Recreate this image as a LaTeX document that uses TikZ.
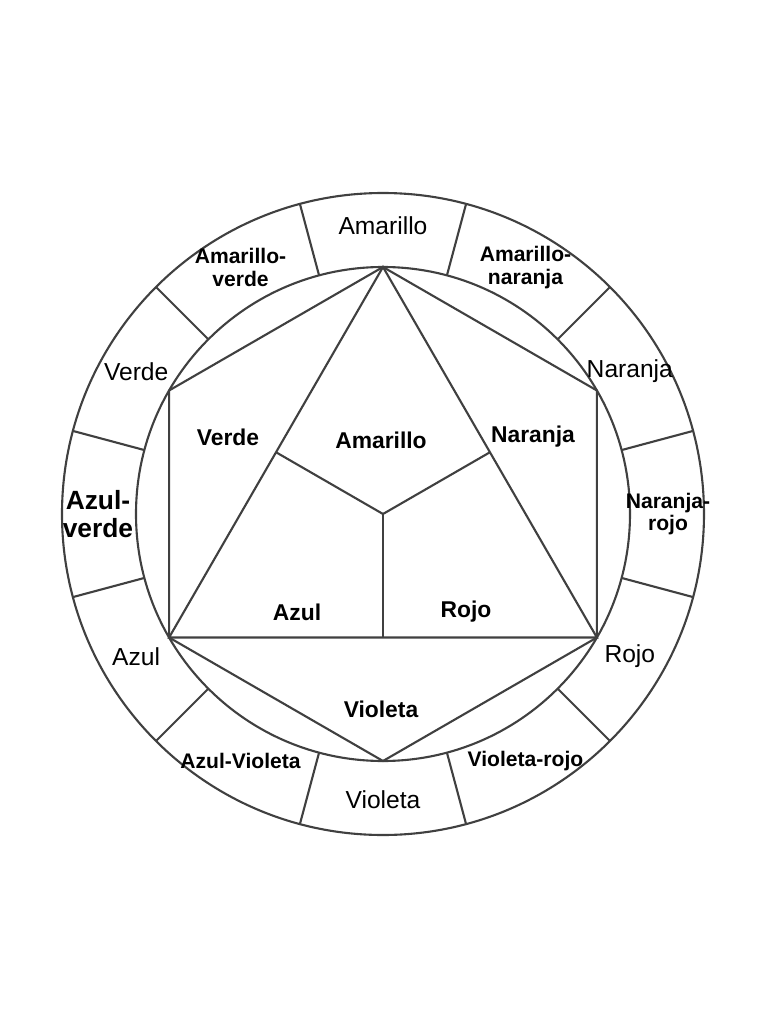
\documentclass[tikz,border=0pt]{standalone}
\usepackage{fontspec}
\setmainfont{Liberation Sans}
\usetikzlibrary{calc}

\begin{document}
\begin{tikzpicture}[line width=0.6pt, draw=black!75]
				\tikzstyle{ring} = [draw=none, align=center, font=\fontsize{7}{8}\selectfont]
				\tikzstyle{ringb} = [draw=none, align=center, font=\fontsize{6}{6.5}\selectfont\bfseries]
				\tikzstyle{inner} = [draw=none, font=\fontsize{6.5}{7.5}\selectfont\bfseries]
				
				\useasboundingbox (-3.83,-5.10) rectangle (3.85,5.14);
				\draw[black!75] (0,0) circle (3.21);
				\draw[black!75] (0,0) circle (2.47);
				\foreach \a in {15,45,...,345}
					\draw[black!75] (\a:2.47) -- (\a:3.21);
				
				% corners of the hexagon
				\foreach \a/\n in {90/h1, 150/h2, 210/h3, 270/h4, 330/h5, 30/h6}
					\coordinate (\n) at (\a:2.47);
				\coordinate (c) at (0,0);
				\draw[black!75] (h1) -- (h2) -- (h3) -- (h4) -- (h5) -- (h6) -- cycle;
				\draw[black!75] (h1) -- (h3) -- (h5) -- cycle;
				\draw[black!75] (c) -- ($(h3)!0.5!(h5)$);
				\draw[black!75] (c) -- ($(h1)!0.5!(h3)$);
				\draw[black!75] (c) -- ($(h1)!0.5!(h5)$);
				
				\node[ring]  at (90:2.88)   (r1)  {Amarillo};
				\node[ringb] at (60:2.85)   (r2)  {Amarillo-\\naranja};
				\node[ring]  at (30:2.85)   (r3)  {Naranja};
				\node[ringb] at (0:2.85)    (r4)  {Naranja-\\rojo};
				\node[ring]  at (-30:2.85)  (r5)  {Rojo};
				\node[ringb] at (-60:2.85)  (r6)  {Violeta-rojo};
				\node[ring]  at (-90:2.86)  (r7)  {Violeta};
				\node[ringb] at (-120:2.85) (r8)  {Azul-Violeta};
				\node[ring]  at (-150:2.85) (r9)  {Azul};
				\node[ring, font=\fontsize{7.5}{8}\selectfont\bfseries] at (180:2.85) (r10) {Azul-\\verde};
				\node[ring]  at (150:2.85)  (r11) {Verde};
				\node[ringb] at (120:2.85)  (r12) {Amarillo-\\verde};
				
				\node[inner] at (-1.55, 0.77)  (i1) {Verde};
				\node[inner] at (-0.02, 0.74)  (i2) {Amarillo};
				\node[inner] at (1.50, 0.77)   (i3) {Naranja};
				\node[inner] at (-0.86, -0.98) (i4) {Azul};
				\node[inner] at (0.83, -0.98)  (i5) {Rojo};
				\node[inner] at (-0.02, -1.95) (i6) {Violeta};
			\end{tikzpicture}
\end{document}
